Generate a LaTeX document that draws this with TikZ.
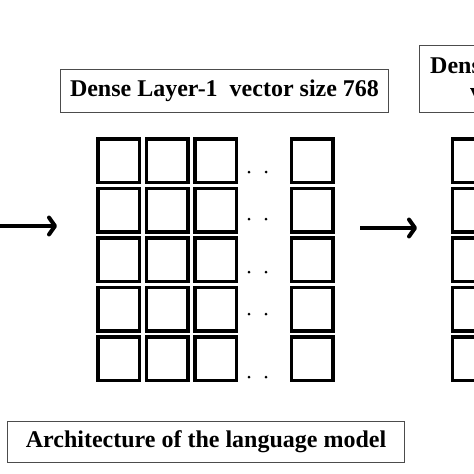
\documentclass[tikz,border=0pt]{standalone}
\usepackage{fontspec}
\setmainfont{Liberation Serif}
\usetikzlibrary{positioning, arrows.meta}

\tikzset{
  cell/.style={draw, line width=3.5pt, minimum width=41.5pt, minimum height=43.5pt, inner sep=0pt},
  labelbox/.style={draw=black!70, line width=1.2pt, inner sep=0pt, font=\fontsize{24}{28}\selectfont\bfseries},
  dotmark/.style={circle, fill=black, inner sep=0pt, minimum size=3pt},
  flow/.style={line width=3.5pt, -{Straight Barb[length=6pt, width=17pt, line width=4pt, round]}}
}

\begin{document}
\begin{tikzpicture}[x=1pt, y=-1pt]

\useasboundingbox (0,0) rectangle (474,474);
\clip (0,0) rectangle (474,474);

% labels
\node[labelbox, minimum width=327.8pt, minimum height=42.8pt] (dense1) at (224.5,91) {Dense Layer-1\ \ vector size 768};
\node[labelbox, anchor=north west, minimum height=67pt, text width=230pt, inner xsep=11pt, align=left] (dense2) at (418.6,44.6) {Dense Layer-2\\[-2pt]\hspace*{40pt}vector size 768};
\node[labelbox, minimum width=397pt, minimum height=41pt] (title) at (206,442) {Architecture of the language model};

% grid of dense units
\foreach \r in {1,...,5} {
  \foreach \c/\x in {1/118.5, 2/167, 3/215.5, 4/312} {
    \node[cell] (u-\c-\r) at (\x, {111+49.5*\r}) {};
  }
  \node[cell] (v-\r) at (473, {111+49.5*\r}) {};
}

% dots
\foreach \r/\y in {1/172, 2/219, 3/272, 4/314, 5/377} {
  \node[dotmark] (da-\r) at (249,\y) {};
  \node[dotmark] (db-\r) at (266,\y) {};
}

% arrows
\coordinate (in) at (-10,226);
\coordinate (inend) at (57,226);
\coordinate (mid) at (360,228);
\coordinate (midend) at (417,228);
\draw[flow] (in) -- (inend);
\draw[flow] (mid) -- (midend);

\end{tikzpicture}
\end{document}
